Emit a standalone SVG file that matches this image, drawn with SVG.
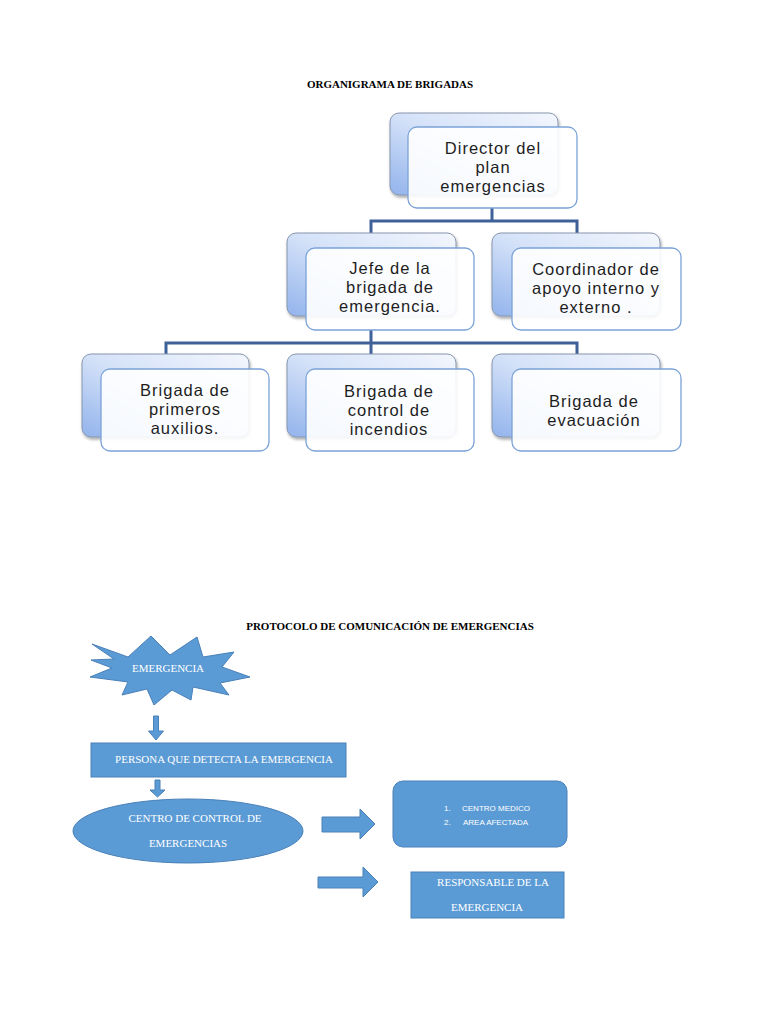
<svg xmlns="http://www.w3.org/2000/svg" width="768" height="1024" viewBox="0 0 768 1024">
<defs>
<linearGradient id="bg" x1="1" y1="0" x2="0" y2="1">
<stop offset="0" stop-color="#F4F7FD"/>
<stop offset="0.5" stop-color="#D3E1F8"/>
<stop offset="1" stop-color="#92B3EC"/>
</linearGradient>
<filter id="sh" x="-10%" y="-10%" width="130%" height="130%">
<feDropShadow dx="1" dy="2" stdDeviation="1.5" flood-color="#000" flood-opacity="0.35"/>
</filter>
<style>
.back{fill:url(#bg);stroke:#8796AE;stroke-width:1;filter:url(#sh)}
.front{fill:#FFFFFF;fill-opacity:0.9;stroke:#7BA3D8;stroke-width:1.3}
.t{font-family:"Liberation Sans","DejaVu Sans",sans-serif;font-size:16.5px;letter-spacing:1px;fill:#1E1E1E;text-anchor:middle}
.title{font-family:"Liberation Serif",serif;font-weight:bold;font-size:11px;fill:#000;text-anchor:middle}
.conn{fill:none;stroke:#3E619A;stroke-width:3}
.blue{fill:#5B9BD5;stroke:#4A80B8;stroke-width:1}
.wt{font-family:"Liberation Serif",serif;font-size:11px;fill:#FFFFFF;text-anchor:middle}
.ws{font-family:"Liberation Sans",sans-serif;font-size:8px;fill:#FFFFFF}
</style>
</defs>
<rect width="768" height="1024" fill="#FFFFFF"/>
<text class="title" x="390" y="88">ORGANIGRAMA DE BRIGADAS</text>

<g id="connectors">
<path class="conn" d="M492,208 V221 M371,234 V221 H577 V234"/>
<path class="conn" d="M371,330 V343 M166,355 V343 H577 V355 M371,343 V355"/>
</g>

<g id="director">
<rect class="back" x="390" y="113" width="168" height="82" rx="9"/>
<rect class="front" x="408" y="127" width="169" height="81" rx="9"/>
<text class="t" x="493" y="154">Director del</text>
<text class="t" x="493" y="173">plan</text>
<text class="t" x="493" y="192">emergencias</text>
</g>
<g id="jefe">
<rect class="back" x="287" y="233" width="169" height="83" rx="9"/>
<rect class="front" x="306" y="248" width="168" height="82" rx="9"/>
<text class="t" x="390" y="274">Jefe de la</text>
<text class="t" x="390" y="293">brigada de</text>
<text class="t" x="390" y="312">emergencia.</text>
</g>
<g id="coordinador">
<rect class="back" x="492" y="233" width="168" height="83" rx="9"/>
<rect class="front" x="512" y="248" width="169" height="82" rx="9"/>
<text class="t" x="596" y="275">Coordinador de</text>
<text class="t" x="596" y="294">apoyo interno y</text>
<text class="t" x="596" y="313">externo .</text>
</g>
<g id="primeros">
<rect class="back" x="82" y="354" width="167" height="83" rx="9"/>
<rect class="front" x="101" y="369" width="168" height="82" rx="9"/>
<text class="t" x="185" y="396">Brigada de</text>
<text class="t" x="185" y="415">primeros</text>
<text class="t" x="185" y="434">auxilios.</text>
</g>
<g id="incendios">
<rect class="back" x="287" y="354" width="169" height="83" rx="9"/>
<rect class="front" x="306" y="369" width="168" height="82" rx="9"/>
<text class="t" x="389" y="397">Brigada de</text>
<text class="t" x="389" y="416">control de</text>
<text class="t" x="389" y="435">incendios</text>
</g>
<g id="evacuacion">
<rect class="back" x="492" y="354" width="168" height="83" rx="9"/>
<rect class="front" x="512" y="369" width="169" height="82" rx="9"/>
<text class="t" x="594" y="407">Brigada de</text>
<text class="t" x="594" y="426">evacuación</text>
</g>

<text class="title" x="390" y="630">PROTOCOLO DE COMUNICACIÓN DE EMERGENCIAS</text>

<g id="emergencia">
<polygon class="blue" points="92,644 128,657 151,636 170,655 197,637 203,657 234,652 222,667 250,677 220,683 229,695 193,687 191,700 172,690 154,705 147,689 122,695 128,682 90,677 112,668 91,660 114,659"/>
<text class="wt" x="168" y="672">EMERGENCIA</text>
</g>

<g id="arrows">
<polygon class="blue" points="153.5,716 158.5,716 158.5,731 163.5,731 156,740 148.5,731 153.5,731"/>
<polygon class="blue" points="155,780 160,780 160,790 165,790 157.5,797 150,790 155,790"/>
<polygon class="blue" points="322,817 360,817 360,809 375,824 360,839 360,832 322,832"/>
<polygon class="blue" points="318,877 363,877 363,867 378,882 363,897 363,888 318,888"/>
</g>

<g id="persona">
<rect class="blue" x="91" y="743" width="255" height="34"/>
<text class="wt" x="224" y="763">PERSONA QUE DETECTA LA EMERGENCIA</text>
</g>

<g id="centro">
<ellipse class="blue" cx="188" cy="831" rx="115" ry="32"/>
<text class="wt" x="195" y="822">CENTRO DE CONTROL DE</text>
<text class="wt" x="188" y="847">EMERGENCIAS</text>
</g>

<g id="lista">
<rect class="blue" x="393" y="781" width="174" height="66" rx="10"/>
<text class="ws" x="444" y="811">1.</text>
<text class="ws" x="462" y="811">CENTRO MEDICO</text>
<text class="ws" x="444" y="825">2.</text>
<text class="ws" x="463" y="825">AREA AFECTADA</text>
</g>

<g id="responsable">
<rect class="blue" x="411" y="872" width="153" height="46"/>
<text class="wt" x="493" y="886">RESPONSABLE DE LA</text>
<text class="wt" x="487" y="911">EMERGENCIA</text>
</g>
</svg>
